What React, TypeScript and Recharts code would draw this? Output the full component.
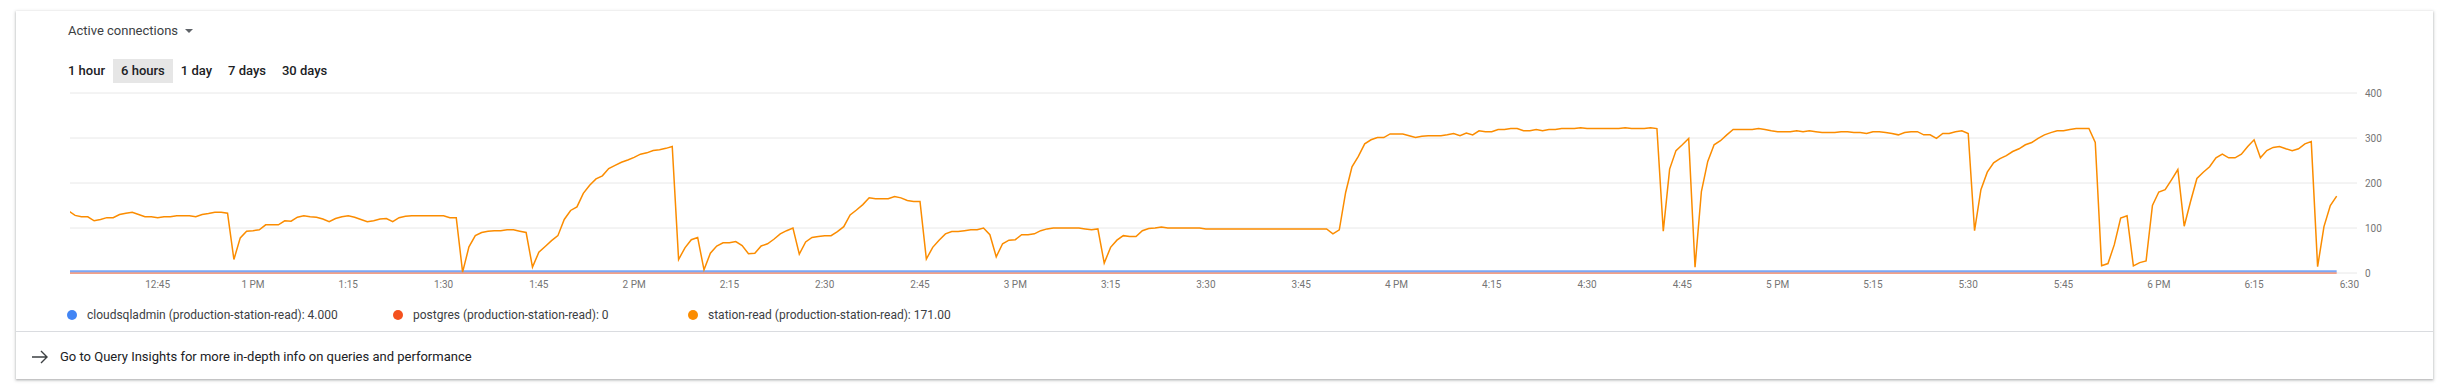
import { CartesianGrid, Line, LineChart, XAxis, YAxis } from 'recharts'

// minutes after 12:00 PM; one sample per minute
const START_MINUTE = 31
const X_DOMAIN: [number, number] = [31.2, 391.2]

const stationRead = [
  138, 128, 125, 125, 116, 119, 123, 123, 130, 133,
  135, 130, 125, 125, 123, 125, 125, 127, 127, 127,
  125, 130, 132, 135, 135, 133, 30, 78, 93, 94,
  96, 107, 107, 107, 116, 115, 124, 127, 125, 124,
  120, 114, 121, 125, 127, 124, 119, 114, 116, 120,
  121, 114, 123, 126, 127, 127, 127, 127, 127, 127,
  123, 123, 2, 58, 83, 90, 93, 94, 94, 96,
  96, 93, 90, 13, 46, 59, 72, 83, 119, 139,
  147, 177, 195, 209, 216, 232, 239, 246, 251, 257,
  264, 267, 272, 274, 277, 281, 30, 56, 74, 79,
  7, 44, 60, 67, 67, 70, 61, 43, 44, 60,
  65, 75, 87, 94, 100, 42, 69, 79, 81, 83,
  83, 92, 103, 129, 140, 152, 167, 165, 165, 165,
  170, 167, 161, 159, 159, 31, 57, 73, 87, 92,
  92, 94, 96, 96, 100, 85, 36, 65, 73, 74,
  85, 85, 87, 94, 98, 100, 100, 100, 100, 100,
  98, 96, 98, 22, 57, 73, 83, 81, 81, 94,
  99, 100, 102, 100, 100, 100, 100, 100, 100, 98,
  98, 98, 98, 98, 98, 98, 98, 98, 98, 98,
  98, 98, 98, 98, 98, 98, 98, 98, 98, 87,
  96, 179, 236, 259, 287, 296, 301, 301, 309, 309,
  309, 305, 301, 304, 305, 305, 305, 307, 310, 305,
  311, 307, 316, 314, 314, 319, 319, 321, 321, 316,
  316, 319, 316, 319, 319, 321, 321, 321, 323, 321,
  321, 321, 321, 321, 321, 323, 321, 321, 321, 323,
  321, 93, 231, 272, 285, 299, 13, 181, 248, 285,
  294, 307, 319, 319, 319, 319, 321, 319, 316, 314,
  314, 314, 316, 314, 316, 314, 312, 312, 312, 314,
  314, 312, 312, 310, 314, 314, 312, 310, 307, 312,
  314, 314, 307, 307, 299, 310, 310, 314, 316, 310,
  94, 185, 224, 245, 254, 261, 270, 276, 285, 290,
  299, 307, 312, 316, 316, 319, 321, 321, 321, 290,
  16, 21, 63, 122, 127, 16, 23, 27, 150, 180,
  185, 207, 230, 104, 159, 210, 224, 236, 256, 264,
  256, 256, 264, 281, 296, 256, 272, 279, 281, 276,
  272, 276, 287, 292, 14, 103, 150, 171,
]
const CLOUDSQLADMIN_VALUE = 4
const POSTGRES_VALUE = 0

const tickMinutes = [45, 60, 75, 90, 105, 120, 135, 150, 165, 180, 195, 210, 225, 240, 255, 270, 285, 300, 315, 330, 345, 360, 375, 390]
const tickLabels = ['12:45', '1 PM', '1:15', '1:30', '1:45', '2 PM', '2:15', '2:30', '2:45', '3 PM', '3:15', '3:30', '3:45', '4 PM', '4:15', '4:30', '4:45', '5 PM', '5:15', '5:30', '5:45', '6 PM', '6:15', '6:30']
const yTicks = [0, 100, 200, 300, 400]

const ranges = ['1 hour', '6 hours', '1 day', '7 days', '30 days']
const SELECTED_RANGE = '6 hours'

const BLUE = '#4285f4'
const BLUE_LINE = '#7ba7f6'
const RED = '#f4511e'
const ORANGE = '#fb8c00'

const legendItems = [
  { label: 'cloudsqladmin (production-station-read): 4.000', color: BLUE, left: 67 },
  { label: 'postgres (production-station-read): 0', color: RED, left: 393 },
  { label: 'station-read (production-station-read): 171.00', color: ORANGE, left: 688 },
]

const data = stationRead.map((v, i) => ({
  t: START_MINUTE + i,
  cloudsqladmin: CLOUDSQLADMIN_VALUE,
  postgres: POSTGRES_VALUE,
  stationRead: v,
}))

const FONT = 'Roboto, Arial, sans-serif'
const tickStyle = { fill: '#757575', fontSize: 10, fontFamily: FONT }

function formatTick(m: number) {
  const i = tickMinutes.indexOf(m)
  return i >= 0 ? tickLabels[i] : ''
}

export default function App() {
  return (
    <div style={{ position: 'fixed', left: 0, top: 0, width: 2443, height: 388, background: '#fff', fontFamily: FONT, overflow: 'hidden' }}>
      <div
        style={{
          position: 'absolute',
          left: 16,
          top: 11,
          width: 2417,
          height: 368,
          background: '#fff',
          boxShadow: '0 1px 2px rgba(60,64,67,0.3), 0 1px 3px 1px rgba(60,64,67,0.15)',
        }}
      />

      <div style={{ position: 'absolute', left: 68, top: 22, fontSize: 13, color: '#3c4043', lineHeight: '18px', display: 'flex', alignItems: 'center' }}>
        Active connections
        <span style={{ marginLeft: 7, width: 0, height: 0, borderLeft: '4px solid transparent', borderRight: '4px solid transparent', borderTop: '4px solid #5f6368' }} />
      </div>

      <div style={{ position: 'absolute', left: 60, top: 59, display: 'flex' }}>
        {ranges.map(r => (
          <div
            key={r}
            style={{
              padding: '0 8px',
              height: 24,
              lineHeight: '24px',
              fontSize: 13,
              fontWeight: 500,
              color: '#202124',
              background: r === SELECTED_RANGE ? '#e6e6e6' : 'transparent',
              whiteSpace: 'nowrap',
            }}
          >
            {r}
          </div>
        ))}
      </div>

      <div style={{ position: 'absolute', left: 0, top: 0 }}>
        <LineChart width={2443} height={300} data={data} margin={{ top: 93, right: 46, bottom: 7, left: 70 }}>
          <CartesianGrid vertical={false} stroke="#e8e8e8" />
          <XAxis
            dataKey="t"
            type="number"
            domain={X_DOMAIN}
            allowDataOverflow
            ticks={tickMinutes}
            interval={0}
            tickFormatter={formatTick}
            tick={tickStyle}
            tickLine={false}
            axisLine={false}
            height={20}
          />
          <YAxis
            orientation="right"
            domain={[0, 400]}
            ticks={yTicks}
            width={40}
            tick={tickStyle}
            tickLine={false}
            axisLine={false}
          />
          <Line type="linear" dataKey="postgres" stroke={RED} strokeWidth={1.2} dot={false} isAnimationActive={false} />
          <Line type="linear" dataKey="cloudsqladmin" stroke={BLUE_LINE} strokeWidth={2} dot={false} isAnimationActive={false} />
          <Line type="linear" dataKey="stationRead" stroke={ORANGE} strokeWidth={1.5} dot={false} isAnimationActive={false} />
        </LineChart>
      </div>

      {legendItems.map(item => (
        <div key={item.label} style={{ position: 'absolute', left: item.left, top: 307, height: 16, display: 'flex', alignItems: 'center' }}>
          <span style={{ width: 10, height: 10, borderRadius: '50%', background: item.color, display: 'inline-block' }} />
          <span style={{ marginLeft: 10, fontSize: 12, color: '#3c4043', whiteSpace: 'nowrap' }}>{item.label}</span>
        </div>
      ))}

      <div style={{ position: 'absolute', left: 16, top: 331, width: 2417, height: 1, background: '#dadce0' }} />

      <svg style={{ position: 'absolute', left: 30, top: 348 }} width={20} height={18} viewBox="0 0 20 18">
        <path d="M2 9 H17 M11 3 L17 9 L11 15" fill="none" stroke="#3c4043" strokeWidth={1.4} />
      </svg>
      <div style={{ position: 'absolute', left: 60, top: 348, fontSize: 13, lineHeight: '18px', color: '#202124', whiteSpace: 'nowrap' }}>
        Go to Query Insights for more in-depth info on queries and performance
      </div>
    </div>
  )
}
